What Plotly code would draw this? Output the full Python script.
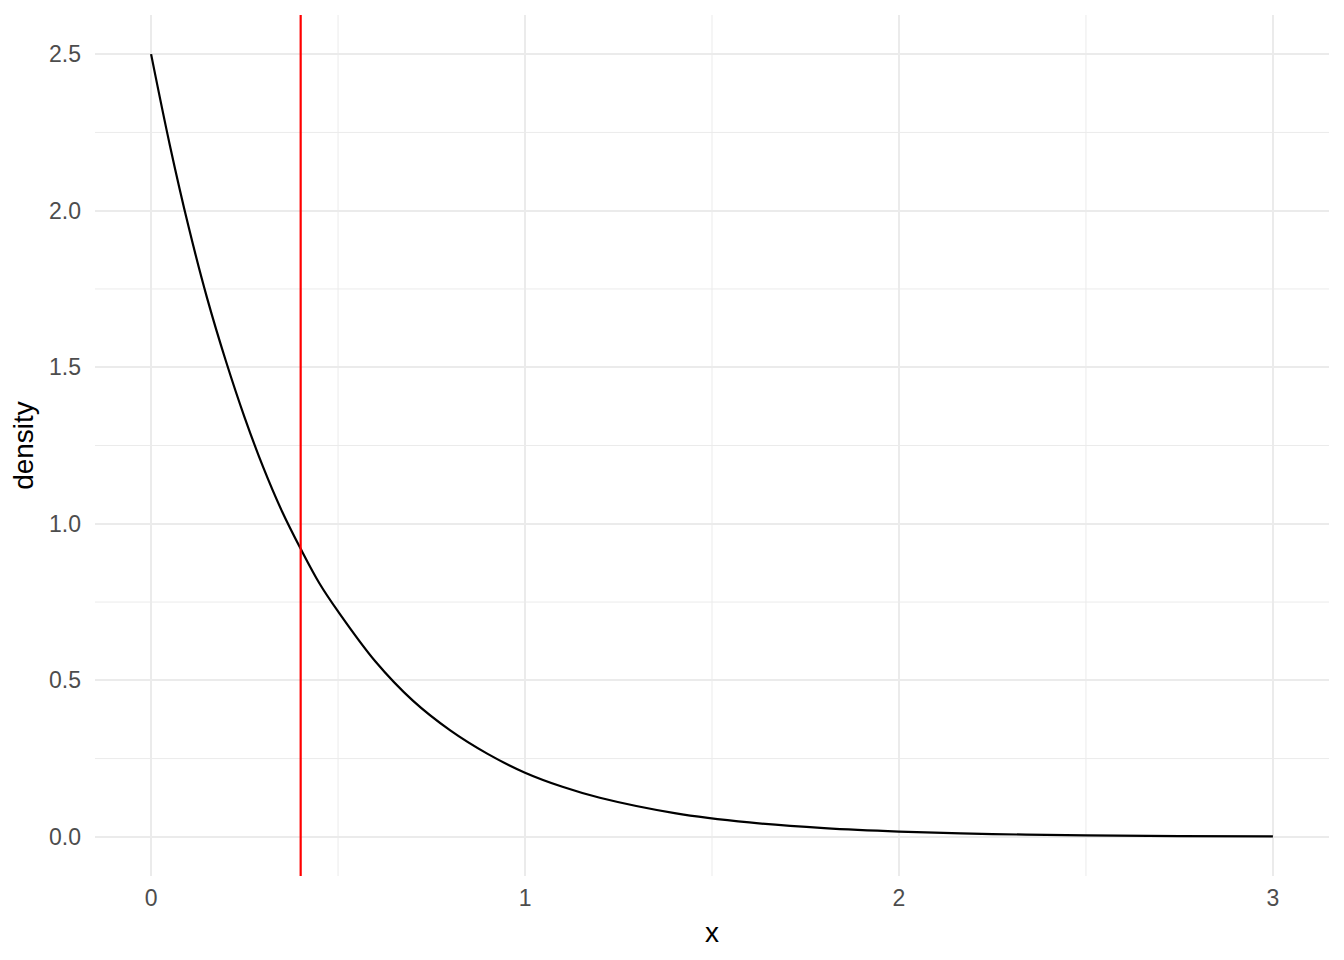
import plotly.graph_objects as go

# values
x_vals = [0.0, 0.05, 0.1, 0.15, 0.2, 0.25, 0.3, 0.35, 0.4, 0.45, 0.5, 0.6, 0.7, 0.8, 0.9,
          1.0, 1.1, 1.2, 1.4, 1.6, 1.8, 2.0, 2.25, 2.5, 2.75, 3.0]
density = [2.5, 2.21, 1.95, 1.72, 1.52, 1.34, 1.18, 1.04, 0.92, 0.81, 0.72, 0.56, 0.435,
           0.34, 0.265, 0.205, 0.16, 0.125, 0.076, 0.046, 0.028, 0.017, 0.009, 0.005, 0.0026, 0.0014]
vline_x = 0.4

x_ticks = [0, 1, 2, 3]
y_ticks = [0.0, 0.5, 1.0, 1.5, 2.0, 2.5]
y_tick_labels = ["0.0", "0.5", "1.0", "1.5", "2.0", "2.5"]
x_minor = [0.5, 1.5, 2.5]
y_minor = [0.25, 0.75, 1.25, 1.75, 2.25]

fig = go.Figure()
fig.add_trace(go.Scatter(x=x_vals, y=density, mode="lines",
                         line=dict(color="black", width=2.2, shape="spline"),
                         showlegend=False, hoverinfo="skip"))

grid_c = "#EBEBEB"
for m in x_minor:
    fig.add_shape(type="line", xref="x", yref="paper", x0=m, x1=m, y0=0, y1=1,
                  line=dict(color=grid_c, width=1), layer="below")
for m in y_minor:
    fig.add_shape(type="line", xref="paper", yref="y", x0=0, x1=1, y0=m, y1=m,
                  line=dict(color=grid_c, width=1), layer="below")

fig.add_shape(type="line", xref="x", yref="paper", x0=vline_x, x1=vline_x, y0=0, y1=1,
              line=dict(color="#FF0000", width=2.2))

font_fam = "Liberation Sans, Arial, sans-serif"
fig.update_layout(
    width=1344, height=960,
    margin=dict(l=87, r=23, t=7, b=92),
    paper_bgcolor="white", plot_bgcolor="white",
    font=dict(family=font_fam),
    xaxis=dict(range=[-0.15, 3.15], tickvals=x_ticks, ticktext=[str(t) for t in x_ticks],
               showgrid=True, gridcolor=grid_c, gridwidth=2, zeroline=False,
               showline=False, ticks="", tickfont=dict(size=23, color="#4D4D4D"),
               ticklabelstandoff=6,
               title=dict(text="x", font=dict(size=28, color="black"), standoff=12)),
    yaxis=dict(range=[-0.125, 2.625], tickvals=y_ticks, ticktext=y_tick_labels,
               showgrid=True, gridcolor=grid_c, gridwidth=2, zeroline=False,
               showline=False, ticks="", tickfont=dict(size=23, color="#4D4D4D"),
               ticklabelstandoff=13,
               title=dict(text="density", font=dict(size=28, color="black"), standoff=10)),
)

fig.write_html("out.html")
